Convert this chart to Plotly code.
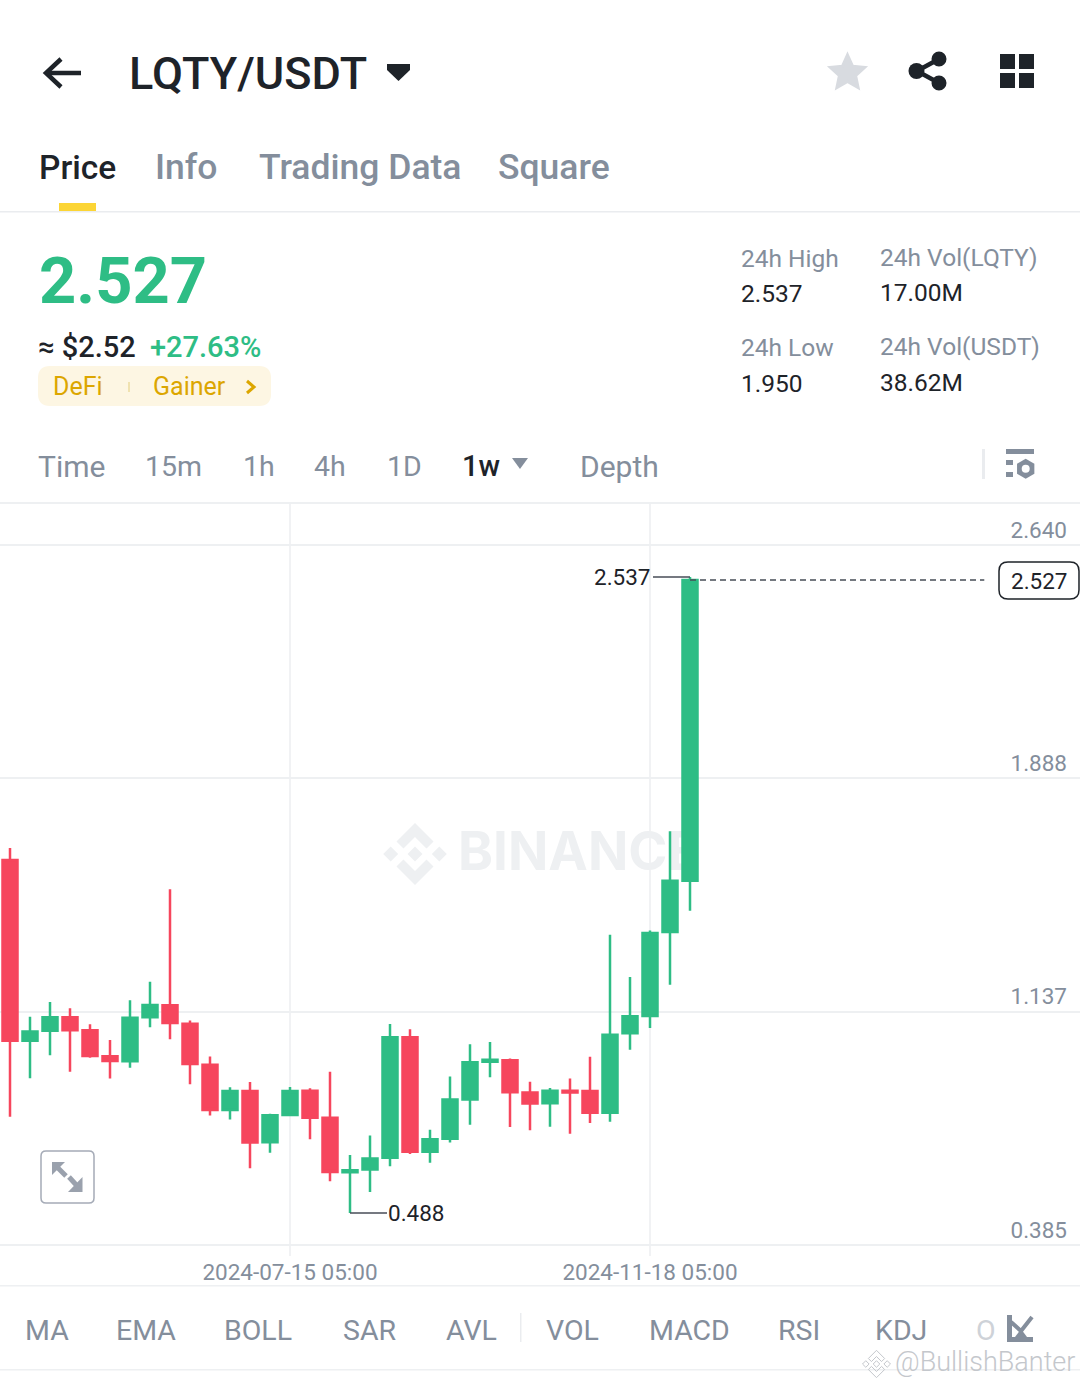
import math
import plotly.graph_objects as go

# semanas (abertura 05:00)
dias = ["2024-04-08", "2024-04-15", "2024-04-22", "2024-04-29", "2024-05-06", "2024-05-13", "2024-05-20",
        "2024-05-27", "2024-06-03", "2024-06-10", "2024-06-17", "2024-06-24", "2024-07-01", "2024-07-08",
        "2024-07-15", "2024-07-22", "2024-07-29", "2024-08-05", "2024-08-12", "2024-08-19", "2024-08-26",
        "2024-09-02", "2024-09-09", "2024-09-16", "2024-09-23", "2024-09-30", "2024-10-07", "2024-10-14",
        "2024-10-21", "2024-10-28", "2024-11-04", "2024-11-11", "2024-11-18", "2024-11-25", "2024-12-02"]
abertura = [1.625, 1.043, 1.075, 1.119, 1.077, 0.993, 0.977, 1.119, 1.157, 1.098, 0.966, 0.820, 0.881, 0.716,
            0.804, 0.882, 0.795, 0.619, 0.628, 0.666, 1.054, 0.685, 0.727, 0.854, 0.975, 0.980, 0.876, 0.842,
            0.882, 0.881, 0.811, 1.067, 1.123, 1.393, 1.558]
maximo = [1.664, 1.120, 1.168, 1.148, 1.096, 1.045, 1.173, 1.233, 1.531, 1.108, 0.992, 0.893, 0.910, 0.808,
          0.894, 0.890, 0.943, 0.675, 0.738, 1.097, 1.080, 0.756, 0.928, 1.032, 1.039, 0.986, 0.911, 0.891,
          0.921, 0.991, 1.384, 1.248, 1.398, 1.718, 2.537]
minimo = [0.798, 0.922, 0.996, 0.943, 0.988, 0.921, 0.956, 1.086, 1.048, 0.903, 0.802, 0.789, 0.632, 0.682,
          0.802, 0.726, 0.590, 0.488, 0.556, 0.639, 0.678, 0.650, 0.715, 0.772, 0.925, 0.765, 0.755, 0.766,
          0.743, 0.778, 0.782, 1.014, 1.084, 1.223, 1.462]
fechamento = [1.043, 1.073, 1.119, 1.077, 0.994, 0.978, 1.117, 1.158, 1.100, 0.968, 0.820, 0.881, 0.715, 0.803,
              0.881, 0.795, 0.620, 0.626, 0.664, 1.054, 0.685, 0.726, 0.854, 0.974, 0.982, 0.877, 0.841, 0.882,
              0.876, 0.811, 1.062, 1.122, 1.390, 1.558, 2.527]
ticks_preco = [0.385, 1.137, 1.888, 2.640]
ticks_data = ["2024-07-15 05:00", "2024-11-18 05:00"]
ultimo = 2.527

VERDE = "#2ebd85"
VERMELHO = "#f6465d"
ESCURO = "#1e2329"
CINZA = "#848e9c"
LINHA = "#eef0f2"
FONTE = "Roboto"

datas = [d + " 05:00" for d in dias]
shapes = []
annotations = []


def px(x):
    return x / 1080


def py(y):
    return 1 - y / 1384


def texto(x, y, s, size, color=CINZA, weight=400, anchor="left"):
    # anotacao alinhada a esquerda fica ~1.5px para dentro
    if anchor == "left":
        x -= 1.5
    annotations.append(dict(xref="paper", yref="paper", x=px(x), y=py(y), text=s, showarrow=False,
                            xanchor=anchor, yanchor="middle", borderpad=0,
                            font=dict(family=FONTE, size=size, color=color, weight=weight)))


def caminho(pontos, fill=None, line=None, width=0, fechar=True, layer="above"):
    d = "M " + " L ".join(f"{px(a):.5f} {py(b):.5f}" for a, b in pontos)
    if fechar:
        d += " Z"
    shapes.append(dict(type="path", xref="paper", yref="paper", path=d, layer=layer,
                       fillcolor=fill if fill else "rgba(0,0,0,0)",
                       line=dict(color=line if line else "rgba(0,0,0,0)", width=width)))


def retangulo(x0, y0, x1, y1, fill):
    caminho([(x0, y0), (x1, y0), (x1, y1), (x0, y1)], fill=fill)


def caixa(x0, y0, x1, y1, r, fill=None, line=None, width=0):
    q = lambda a, b: f"{px(a):.5f} {py(b):.5f}"
    d = (f"M {q(x0 + r, y0)} L {q(x1 - r, y0)} Q {q(x1, y0)} {q(x1, y0 + r)} L {q(x1, y1 - r)} "
         f"Q {q(x1, y1)} {q(x1 - r, y1)} L {q(x0 + r, y1)} Q {q(x0, y1)} {q(x0, y1 - r)} "
         f"L {q(x0, y0 + r)} Q {q(x0, y0)} {q(x0 + r, y0)} Z")
    shapes.append(dict(type="path", xref="paper", yref="paper", path=d, layer="above",
                       fillcolor=fill if fill else "rgba(0,0,0,0)",
                       line=dict(color=line if line else "rgba(0,0,0,0)", width=width)))


def circulo(cx, cy, r, fill):
    shapes.append(dict(type="circle", xref="paper", yref="paper", x0=px(cx - r), x1=px(cx + r),
                       y0=py(cy + r), y1=py(cy - r), fillcolor=fill, line=dict(width=0), layer="above"))


def logo(cx, cy, k, fill=None, line=None, width=0, layer="above"):
    for dx, dy in [(0, 0), (-24.3, 0), (24.3, 0)]:
        caminho([(cx + dx * k, cy - 7.5 * k), (cx + (dx + 7.5) * k, cy), (cx + dx * k, cy + 7.5 * k),
                 (cx + (dx - 7.5) * k, cy)], fill=fill, line=line, width=width, layer=layer)
    for s in (1, -1):
        caminho([(cx, cy - s * 31 * k), (cx + 18.5 * k, cy - s * 12.5 * k), (cx + 11.5 * k, cy - s * 5.5 * k),
                 (cx, cy - s * 17 * k), (cx - 11.5 * k, cy - s * 5.5 * k), (cx - 18.5 * k, cy - s * 12.5 * k)],
                fill=fill, line=line, width=width, layer=layer)


# cabecalho
caminho([(61, 59), (46, 73), (61, 87)], line=ESCURO, width=4.5, fechar=False)
caminho([(47, 73), (81, 73)], line=ESCURO, width=4.5, fechar=False)
texto(129, 73, "LQTY/USDT", 45, ESCURO, 500)
caminho([(387, 64), (410, 64), (410, 70), (398.5, 81), (387, 70)], fill=ESCURO)
estrela = []
for i in range(10):
    r = 18 if i % 2 == 0 else 8.5
    a = -math.pi / 2 + i * math.pi / 5
    estrela.append((847.5 + r * math.cos(a), 73 + r * math.sin(a)))
caminho(estrela, fill="#d8dbe0", line="#d8dbe0", width=3)
caminho([(939, 59), (917, 71), (939, 83)], line=ESCURO, width=4.5, fechar=False)
circulo(916.5, 71, 8, ESCURO)
circulo(939, 59, 7.5, ESCURO)
circulo(939, 83, 7.5, ESCURO)
for x0, y0 in [(1000, 54), (1019, 54), (1000, 73), (1019, 73)]:
    retangulo(x0, y0, x0 + 15, y0 + 15, ESCURO)

texto(39, 167, "Price", 33.5, ESCURO, 500)
texto(155, 167, "Info", 35.5, CINZA, 500)
texto(259, 167, "Trading Data", 35.5, CINZA, 500)
texto(498, 167, "Square", 35.5, CINZA, 500)
retangulo(59, 203, 96, 211, "#fcd535")
retangulo(0, 211, 1080, 212.5, "#eaecef")

# preco atual
texto(39, 281, "2.527", 65, VERDE, 700)
texto(38, 347, "≈ $2.52", 29, ESCURO, 500)
texto(150, 347, "+27.63%", 29, VERDE, 500)
caixa(38, 366, 271, 406, 12, fill="#fdf6e3")
texto(53, 386, "DeFi", 25, "#dca600")
retangulo(128, 382, 130, 392, "#f0e2b0")
texto(153, 386, "Gainer", 25, "#dca600")
caminho([(247, 381), (254, 387), (247, 393)], line="#dca600", width=3, fechar=False)

texto(741, 259, "24h High", 24.5)
texto(741, 293, "2.537", 24.5, ESCURO)
texto(880, 258, "24h Vol(LQTY)", 24.5)
texto(880, 292, "17.00M", 24.5, ESCURO)
texto(741, 348, "24h Low", 24.5)
texto(741, 383, "1.950", 24.5, ESCURO)
texto(880, 347, "24h Vol(USDT)", 24.5)
texto(880, 382, "38.62M", 24.5, ESCURO)

# intervalos
for x, s, tam in [(38, "Time", 30), (145, "15m", 28.5), (243, "1h", 28.5), (314, "4h", 28.5), (387, "1D", 28.5),
                  (580, "Depth", 30)]:
    texto(x, 466, s, tam)
texto(462, 466, "1w", 29, ESCURO, 500)
caminho([(512, 458), (528, 458), (520, 469)], fill=CINZA)
retangulo(982, 449, 985, 479, "#eaecef")
retangulo(1006, 449, 1034, 454, CINZA)
retangulo(1006, 460, 1013, 465, CINZA)
retangulo(1006, 472, 1013, 477, CINZA)
caminho([(1025.7 + 10 * math.cos(math.pi / 6 + i * math.pi / 3), 468.7 + 10 * math.sin(math.pi / 6 + i * math.pi / 3))
         for i in range(6)], fill=CINZA)
circulo(1025.7, 468.7, 4, "#ffffff")
retangulo(0, 502, 1080, 504, LINHA)

# logo BINANCE atras das velas
logo(415, 854, 1, fill="#eef0f2", layer="below")

fig = go.Figure()
fig.add_trace(go.Scatter(x=[458], y=[857], mode="text", text=["BINANCE"], textposition="middle right",
                         textfont=dict(family="Inter", size=53, color="#eef0f2", weight=700),
                         xaxis="x", yaxis="y", showlegend=False, hoverinfo="skip"))
fig.add_trace(go.Candlestick(x=datas, open=abertura, high=maximo, low=minimo, close=fechamento,
                             xaxis="x2", yaxis="y2", whiskerwidth=0, showlegend=False,
                             increasing=dict(line=dict(color=VERDE, width=2.5), fillcolor=VERDE),
                             decreasing=dict(line=dict(color=VERMELHO, width=2.5), fillcolor=VERMELHO)))

# ultimo preco e marcas de maximo/minimo
shapes.append(dict(type="line", xref="x2", yref="y2", x0=datas[-1], x1="2025-03-15 05:00", y0=ultimo, y1=ultimo,
                   line=dict(color="#474d57", width=1.5, dash="6px,4px"), layer="above"))
shapes.append(dict(type="line", xref="x2", yref="y2", x0="2024-11-19 06:00", x1=datas[-1],
                   y0=max(maximo), y1=max(maximo), line=dict(color="#474d57", width=1.5), layer="above"))
shapes.append(dict(type="line", xref="x2", yref="y2", x0=datas[17], x1="2024-08-18 04:00",
                   y0=min(minimo), y1=min(minimo), line=dict(color="#474d57", width=1.5), layer="above"))
shapes.append(dict(type="line", xref="x2", yref="y2", x0=datas[17], x1=datas[17],
                   y0=min(minimo), y1=min(abertura), line=dict(color="#474d57", width=1), layer="below"))
annotations.append(dict(xref="x2", yref="y2", x="2024-11-19 06:00", y=max(maximo), text="2.537", showarrow=False,
                        xanchor="right", yanchor="middle", font=dict(family=FONTE, size=22.5, color=ESCURO)))
annotations.append(dict(xref="x2", yref="y2", x="2024-08-18 04:00", y=min(minimo), text="0.488", showarrow=False,
                        xanchor="left", yanchor="middle", xshift=-1, font=dict(family=FONTE, size=22.5, color=ESCURO)))

caixa(999, 562, 1079, 599, 9, fill="#ffffff", line=ESCURO, width=1.5)
texto(1039, 581, "2.527", 22.5, ESCURO, anchor="center")

# botao expandir
caixa(41, 1151, 94, 1203, 5, fill="#ffffff", line="#a5abb7", width=1.5)
caminho([(52, 1162), (65, 1162), (52, 1175)], fill="#9aa1ad")
caminho([(82.5, 1192), (68, 1192), (82.5, 1177)], fill="#9aa1ad")
caminho([(56, 1166), (66, 1176)], line="#9aa1ad", width=5, fechar=False)
caminho([(69, 1177), (79, 1188)], line="#9aa1ad", width=5, fechar=False)

# indicadores
retangulo(0, 1285, 1080, 1286.5, LINHA)
retangulo(0, 1369, 1080, 1370.5, LINHA)
for x, s in [(25, "MA"), (116, "EMA"), (224, "BOLL"), (343, "SAR"), (446, "AVL"), (546, "VOL"), (649, "MACD"),
             (778, "RSI"), (875, "KDJ")]:
    texto(x, 1330, s, 28.5)
retangulo(520, 1313, 521.5, 1342, "#eaecef")
texto(976, 1330, "O", 28.5, "#ced2d8")
retangulo(1007, 1315, 1012, 1342, CINZA)
retangulo(1007, 1337, 1033, 1342, CINZA)
caminho([(1011, 1322), (1021, 1331), (1032, 1317)], line=CINZA, width=4, fechar=False)
caminho([(1015, 1337), (1027, 1337), (1021, 1329)], fill=CINZA)

# marca d'agua
logo(876.5, 1364, 0.44, line="#c4c7cc", width=1)
texto(895, 1362, "@BullishBanter", 27, "#c4c7cc", 300)

fig.update_layout(
    width=1080, height=1384, margin=dict(l=0, r=0, t=0, b=0), autosize=False,
    paper_bgcolor="#ffffff", plot_bgcolor="#ffffff", showlegend=False, boxgap=0.25, boxgroupgap=0,
    shapes=shapes, annotations=annotations,
    font=dict(family=FONTE),
    xaxis=dict(visible=False, range=[0, 1080], domain=[0, 1]),
    yaxis=dict(visible=False, range=[1256, 503], domain=[py(1256), py(503)]),
    xaxis2=dict(type="date", overlaying="x", anchor="y2", range=["2024-04-04 17:00", "2025-04-17 17:00"],
                rangeslider=dict(visible=False), tickmode="array", tickvals=ticks_data, ticktext=ticks_data,
                showgrid=True, gridcolor="#f1f2f4", gridwidth=1.5, ticks="", showline=False, zeroline=False,
                tickfont=dict(family=FONTE, size=22.5, color=CINZA)),
    yaxis2=dict(overlaying="y", anchor="x2", side="right", range=[0.3496, 2.775], tickmode="array",
                tickvals=ticks_preco, ticktext=[f"{v:.3f}" for v in ticks_preco],
                ticklabelposition="inside", ticklabelshift=-15, ticklabelstandoff=10,
                showgrid=True, gridcolor=LINHA, gridwidth=1.5, ticks="", showline=False, zeroline=False,
                tickfont=dict(family=FONTE, size=22.5, color=CINZA)),
)

# tira a margem padrao do body, senao tudo desloca 8px
fig.write_html("out.html", config={"displayModeBar": False},
               post_script="document.body.style.margin='0';")
